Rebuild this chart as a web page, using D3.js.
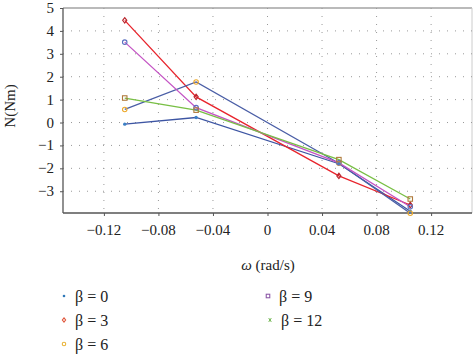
<!DOCTYPE html>
<html>
<head>
<meta charset="utf-8">
<script src="https://cdn.jsdelivr.net/npm/d3@7"></script>
</head>
<body style="margin:0">
<svg id="c" width="474" height="354"></svg>
<script>
// omega values (rad/s) and N (Nm) per beta
const omega = [-Math.PI / 30, -Math.PI / 60, Math.PI / 60, Math.PI / 30];
const betas = [0, 3, 6, 9, 12];
const nBeta0 = [-0.07, 0.22, -1.80, -3.87];
const nBeta3 = [4.46, 1.12, -2.33, -3.60];
const nBeta6 = [0.57, 1.77, -1.78, -3.96];
const nBeta9 = [3.51, 0.65, -1.76, -3.68];
const nBeta12 = [1.07, 0.54, -1.62, -3.34];
const xTicks = [-0.12, -0.08, -0.04, 0, 0.04, 0.08, 0.12];
const yTicks = [-3, -2, -1, 0, 1, 2, 3, 4, 5];

const series = [
  { beta: betas[0], values: nBeta0, line: "#3d55a3", mark: "#3b7fc4", shape: "dot", key: "#2f78b8", keyShape: "dot" },
  { beta: betas[1], values: nBeta3, line: "#e8242c", mark: "#b8262d", shape: "diamond", key: "#e0553a", keyShape: "diamond" },
  { beta: betas[2], values: nBeta6, line: "#4a5ea6", mark: "#eda92a", shape: "circle", key: "#e9b43a", keyShape: "circle" },
  { beta: betas[3], values: nBeta9, line: "#c454c4", mark: "#5a6fc0", shape: "circle", key: "#8e5aa8", keyShape: "square" },
  { beta: betas[4], values: nBeta12, line: "#78bf44", mark: "#b07a3c", shape: "square", key: "#6cb34a", keyShape: "star" }
];

const svg = d3.select("#c");
const plotLeft = 63, plotRight = 472, plotTop = 8, plotBottom = 213;

const x = d3.scaleLinear().domain([-0.15, 0.15]).range([plotLeft, plotRight]);
const y = d3.scaleLinear().domain([-3.95, 5]).range([plotBottom, plotTop]);

const addText = (size) => svg.append("text")
  .attr("font-size", size)
  .style("font-family", '"Times New Roman"')
  .attr("fill", "#222");

// frame
svg.append("line").attr("x1", plotLeft).attr("x2", plotRight).attr("y1", plotTop).attr("y2", plotTop)
  .attr("stroke", "#777").attr("stroke-width", 1.2);
svg.append("line").attr("x1", plotRight).attr("x2", plotRight).attr("y1", plotTop).attr("y2", plotBottom)
  .attr("stroke", "#ccc").attr("stroke-width", 1);

// dotted grid
svg.append("g").selectAll("line").data(yTicks.filter(d => d < 5)).join("line")
  .attr("x1", plotLeft).attr("x2", plotRight)
  .attr("y1", d => y(d)).attr("y2", d => y(d))
  .attr("stroke", "#999").attr("stroke-width", 1).attr("stroke-dasharray", "1,7");
svg.append("g").selectAll("line").data(xTicks).join("line")
  .attr("x1", d => x(d)).attr("x2", d => x(d))
  .attr("y1", plotTop).attr("y2", plotBottom)
  .attr("stroke", "#999").attr("stroke-width", 1).attr("stroke-dasharray", "1,7");

const fmt = d => (d < 0 ? "\u2212" : "") + String(Math.abs(d));

// axes: d3 draws domain and tick marks, labels added as separate text
const xAxis = svg.append("g").attr("transform", `translate(0,${plotBottom})`)
  .call(d3.axisBottom(x).tickValues(xTicks).tickSize(3).tickFormat("").tickSizeOuter(0));
const yAxis = svg.append("g").attr("transform", `translate(${plotLeft},0)`)
  .call(d3.axisLeft(y).tickValues(yTicks).tickSize(3).tickFormat("").tickSizeOuter(0));
[xAxis, yAxis].forEach(g => {
  g.select(".domain").attr("stroke", "#555").attr("stroke-width", 1.3);
  g.selectAll(".tick line").attr("stroke", "#555");
  g.selectAll(".tick text").remove();
});
xAxis.select(".domain").attr("d", `M${plotLeft},0H${plotRight}`);
yAxis.select(".domain").attr("d", `M0,${plotTop}V${plotBottom}`);

xTicks.forEach(t => {
  addText(15).attr("x", x(t)).attr("y", plotBottom + 22).attr("text-anchor", "middle").text(fmt(t));
});
yTicks.forEach(t => {
  addText(15).attr("x", plotLeft - 9).attr("y", y(t) + 5).attr("text-anchor", "end").text(fmt(t));
});

// axis labels
const xl = addText(15).attr("x", 268).attr("y", 270).attr("text-anchor", "middle");
xl.append("tspan").attr("font-style", "italic").text("\u03C9");
xl.append("tspan").text(" (rad/s)");
addText(15).attr("transform", "translate(15,106) rotate(-90)")
  .attr("text-anchor", "middle").text("N(Nm)");

// markers
const drawMarker = (g, shape, color, cx, cy, r) => {
  if (shape === "dot") {
    g.append("circle").attr("cx", cx).attr("cy", cy).attr("r", r * 0.6).attr("fill", color);
  } else if (shape === "diamond") {
    g.append("path").attr("d", `M${cx},${cy - r}L${cx + r * 0.75},${cy}L${cx},${cy + r}L${cx - r * 0.75},${cy}Z`)
      .attr("fill", "none").attr("stroke", color).attr("stroke-width", 1.1);
  } else if (shape === "circle") {
    g.append("circle").attr("cx", cx).attr("cy", cy).attr("r", r * 0.8)
      .attr("fill", "none").attr("stroke", color).attr("stroke-width", 1.1);
  } else if (shape === "square") {
    g.append("rect").attr("x", cx - r * 0.8).attr("y", cy - r * 0.8).attr("width", r * 1.6).attr("height", r * 1.6)
      .attr("fill", "none").attr("stroke", color).attr("stroke-width", 1.1);
  } else {
    g.append("path").attr("d", d3.symbol(d3.symbolTimes, r * r * 1.6)()).attr("transform", `translate(${cx},${cy})`)
      .attr("fill", color).attr("stroke", color).attr("stroke-width", 0.8);
    g.append("path").attr("d", `M${cx},${cy - r * 0.9}V${cy + r * 0.9}`).attr("stroke", color).attr("stroke-width", 0.9);
  }
};

const line = d3.line().x((d, i) => x(omega[i])).y(d => y(d));
const plot = svg.append("g");
series.forEach(s => {
  plot.append("path").datum(s.values).attr("d", line)
    .attr("fill", "none").attr("stroke", s.line).attr("stroke-width", 1.3);
});
series.forEach(s => {
  s.values.forEach((v, i) => drawMarker(plot, s.shape, s.mark, x(omega[i]), y(v), 2.8));
});

// legend
const legendPos = [[64, 297], [64, 321], [64, 345], [268, 297], [270, 321]];
series.forEach((s, i) => {
  const [lx, ly] = legendPos[i];
  drawMarker(svg, s.keyShape, s.key, lx, ly - 1, 2.2);
  addText(16).attr("x", lx + 11).attr("y", ly + 5).text(`\u03B2 = ${s.beta}`);
});
</script>
</body>
</html>
